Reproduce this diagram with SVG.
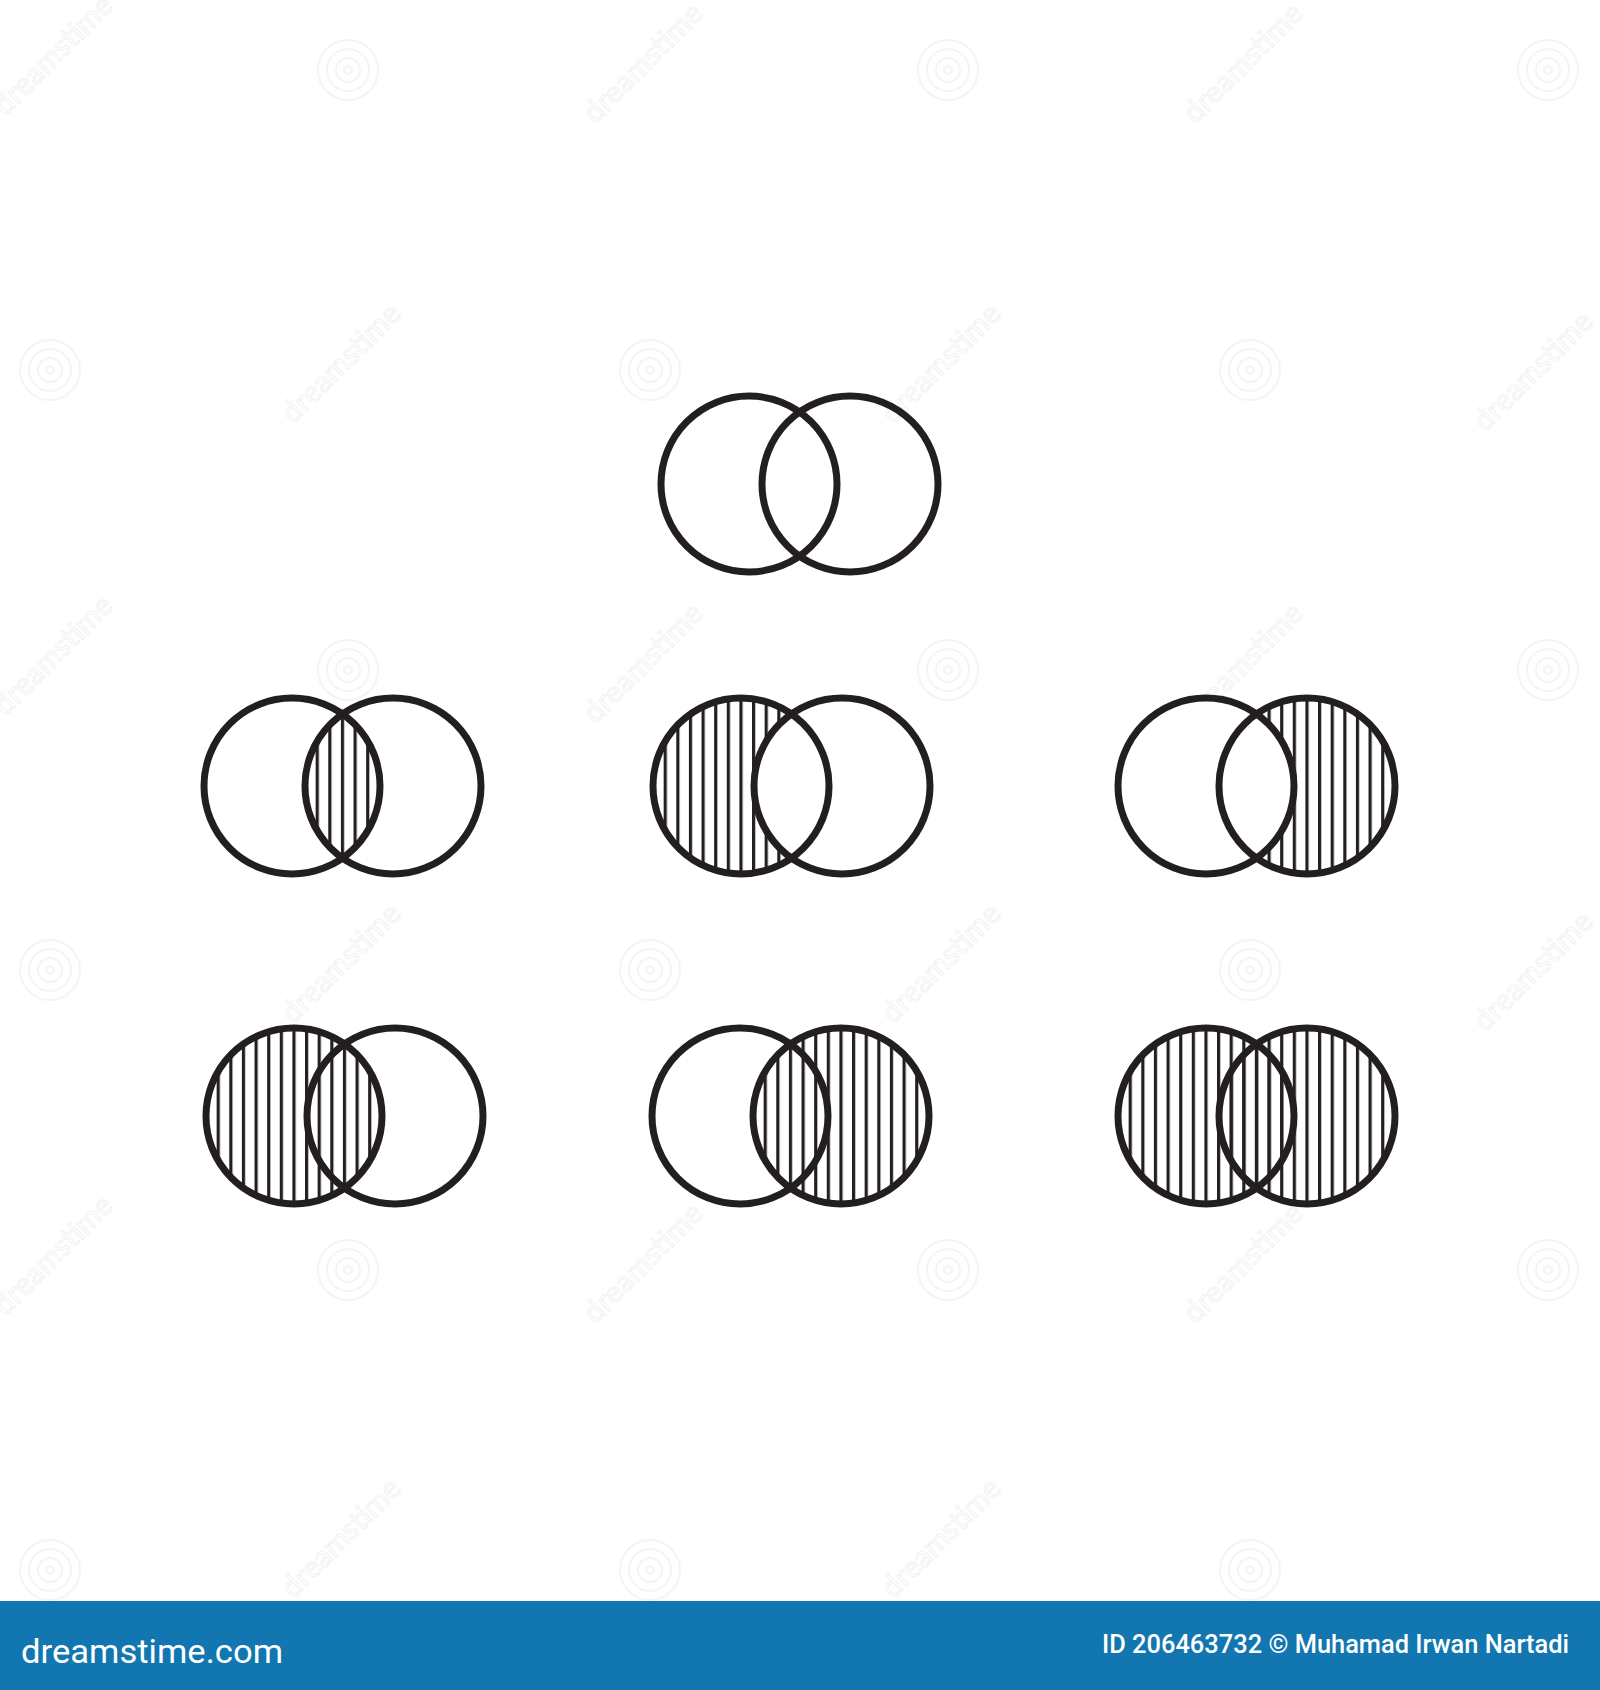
<svg xmlns="http://www.w3.org/2000/svg" width="1600" height="1690" viewBox="0 0 1600 1690">
<style>
.ring{fill:none;stroke:#231f20;stroke-width:7}
.wipe{fill:#fff}
.wm-s{fill:none;stroke:#f4f4f4;stroke-width:2}
.wm-t{font-family:"Lato","Liberation Sans",sans-serif;font-size:30px;fill:#fff;stroke:#f2f2f2;stroke-width:1}
.foot{fill:#fff;font-family:Roboto,"Liberation Sans",sans-serif}
</style>
<defs>
<pattern id="hatch" patternUnits="userSpaceOnUse" x="-1.6" y="0" width="12.625" height="20">
<rect x="0" y="0" width="3.2" height="20" fill="#231f20"/>
</pattern>
<clipPath id="clipR" clipPathUnits="userSpaceOnUse"><circle cx="101" cy="0" r="88"/></clipPath>
<g id="wmspiral">
<circle r="30" class="wm-s"/><circle r="21" class="wm-s"/><circle r="12" class="wm-s"/><circle r="4" class="wm-s"/>
</g>
</defs>
<rect width="1600" height="1690" fill="#fff"/>
<g id="watermarks">
<use href="#wmspiral" x="348" y="70"/><use href="#wmspiral" x="948" y="70"/><use href="#wmspiral" x="1548" y="70"/>
<use href="#wmspiral" x="50" y="370"/><use href="#wmspiral" x="650" y="370"/><use href="#wmspiral" x="1250" y="370"/>
<use href="#wmspiral" x="348" y="670"/><use href="#wmspiral" x="948" y="670"/><use href="#wmspiral" x="1548" y="670"/>
<use href="#wmspiral" x="50" y="970"/><use href="#wmspiral" x="650" y="970"/><use href="#wmspiral" x="1250" y="970"/>
<use href="#wmspiral" x="348" y="1270"/><use href="#wmspiral" x="948" y="1270"/><use href="#wmspiral" x="1548" y="1270"/>
<use href="#wmspiral" x="50" y="1570"/><use href="#wmspiral" x="650" y="1570"/><use href="#wmspiral" x="1250" y="1570"/>
<text class="wm-t" transform="translate(60 62) rotate(-45)" text-anchor="middle">dreamstime</text>
<text class="wm-t" transform="translate(650 70) rotate(-45)" text-anchor="middle">dreamstime</text>
<text class="wm-t" transform="translate(1250 70) rotate(-45)" text-anchor="middle">dreamstime</text>
<text class="wm-t" transform="translate(348 370) rotate(-45)" text-anchor="middle">dreamstime</text>
<text class="wm-t" transform="translate(948 370) rotate(-45)" text-anchor="middle">dreamstime</text>
<text class="wm-t" transform="translate(1540 378) rotate(-45)" text-anchor="middle">dreamstime</text>
<text class="wm-t" transform="translate(60 662) rotate(-45)" text-anchor="middle">dreamstime</text>
<text class="wm-t" transform="translate(650 670) rotate(-45)" text-anchor="middle">dreamstime</text>
<text class="wm-t" transform="translate(1250 670) rotate(-45)" text-anchor="middle">dreamstime</text>
<text class="wm-t" transform="translate(348 970) rotate(-45)" text-anchor="middle">dreamstime</text>
<text class="wm-t" transform="translate(948 970) rotate(-45)" text-anchor="middle">dreamstime</text>
<text class="wm-t" transform="translate(1540 978) rotate(-45)" text-anchor="middle">dreamstime</text>
<text class="wm-t" transform="translate(60 1262) rotate(-45)" text-anchor="middle">dreamstime</text>
<text class="wm-t" transform="translate(650 1270) rotate(-45)" text-anchor="middle">dreamstime</text>
<text class="wm-t" transform="translate(1250 1270) rotate(-45)" text-anchor="middle">dreamstime</text>
<text class="wm-t" transform="translate(348 1545) rotate(-45)" text-anchor="middle">dreamstime</text>
<text class="wm-t" transform="translate(948 1545) rotate(-45)" text-anchor="middle">dreamstime</text>
</g>

<g id="venn-top" transform="translate(749 484)">
<circle class="ring" cx="0" cy="0" r="88"/>
<circle class="ring" cx="101" cy="0" r="88"/>
</g>

<g id="venn-intersection" transform="translate(292 786)">
<circle cx="0" cy="0" r="88" fill="url(#hatch)" clip-path="url(#clipR)"/>
<circle class="ring" cx="0" cy="0" r="88"/>
<circle class="ring" cx="101" cy="0" r="88"/>
</g>

<g id="venn-left-only" transform="translate(741 786)">
<circle cx="0" cy="0" r="88" fill="url(#hatch)"/>
<circle class="wipe" cx="101" cy="0" r="88"/>
<circle class="ring" cx="0" cy="0" r="88"/>
<circle class="ring" cx="101" cy="0" r="88"/>
</g>

<g id="venn-right-only" transform="translate(1206 786)">
<circle cx="101" cy="0" r="88" fill="url(#hatch)"/>
<circle class="wipe" cx="0" cy="0" r="88"/>
<circle class="ring" cx="0" cy="0" r="88"/>
<circle class="ring" cx="101" cy="0" r="88"/>
</g>

<g id="venn-left-full" transform="translate(294 1116)">
<circle cx="0" cy="0" r="88" fill="url(#hatch)"/>
<circle class="ring" cx="0" cy="0" r="88"/>
<circle class="ring" cx="101" cy="0" r="88"/>
</g>

<g id="venn-right-full" transform="translate(740 1116)">
<circle cx="101" cy="0" r="88" fill="url(#hatch)"/>
<circle class="ring" cx="0" cy="0" r="88"/>
<circle class="ring" cx="101" cy="0" r="88"/>
</g>

<g id="venn-union" transform="translate(1206 1116)">
<circle cx="0" cy="0" r="88" fill="url(#hatch)"/>
<circle cx="101" cy="0" r="88" fill="url(#hatch)"/>
<circle class="ring" cx="0" cy="0" r="88"/>
<circle class="ring" cx="101" cy="0" r="88"/>
</g>

<g id="footer">
<rect x="0" y="1601" width="1600" height="89" fill="#1276b0"/>
<text class="foot" x="21" y="1663" font-family="Lato, 'Liberation Sans', sans-serif" font-size="34" textLength="262" lengthAdjust="spacingAndGlyphs">dreamstime.com</text>
<text class="foot" x="1102" y="1653" font-size="26" font-weight="500" textLength="467" lengthAdjust="spacingAndGlyphs">ID 206463732 © Muhamad Irwan Nartadi</text>
</g>
</svg>
